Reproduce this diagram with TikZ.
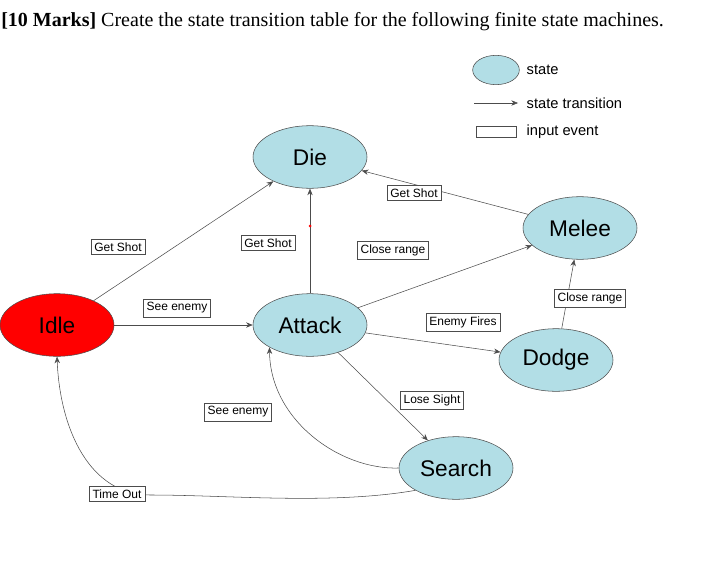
\documentclass[tikz,border=0pt]{standalone}
\usepackage{fontspec}
\setmainfont{Liberation Sans}
\newfontfamily\tnr{Liberation Serif}
\usetikzlibrary{arrows.meta,shapes.geometric}
\definecolor{stb}{RGB}{178,222,230}
\definecolor{idr}{RGB}{255,0,0}
\begin{document}
\begin{tikzpicture}[x=0.75pt,y=-0.75pt,
  st/.style={draw=black!70,fill=stb,ellipse,minimum width=85.5pt,minimum height=47pt,inner sep=0,font=\fontsize{17}{17}\selectfont},
  ev/.style={draw=black!70,fill=white,inner sep=2.5pt,font=\fontsize{9}{10}\selectfont},
  tr/.style={draw=black!70,-{Stealth[length=5pt,width=4pt]}},
  ]
\useasboundingbox (0,0) rectangle (706,567);
\node[anchor=west,font=\tnr\fontsize{15}{15}\selectfont,inner sep=0] (title) at (1,22) {\textbf{[10 Marks]} Create the state transition table for the following finite state machines.};
% legend
\node[draw=black!70,fill=stb,ellipse,minimum width=35pt,minimum height=22pt,inner sep=0] (lst) at (496,70) {};
\node[anchor=west,font=\fontsize{11}{11}\selectfont] (lstt) at (522,70) {state};
\coordinate (la) at (474,103); \coordinate (lb) at (518,103);
\draw[tr] (la) -- (lb);
\node[anchor=west,font=\fontsize{11}{11}\selectfont] (ltrt) at (522,103) {state transition};
\node[draw=black!70,minimum width=30pt,minimum height=8pt,inner sep=0] (lev) at (496,132) {};
\node[anchor=west,font=\fontsize{11}{11}\selectfont] (levt) at (522,132) {input event};
% states
\node[st] (die) at (310,157) {Die};
\node[st] (melee) at (580,228) {Melee};
\node[st,fill=idr] (idle) at (57,325) {Idle};
\node[st] (attack) at (310,325) {Attack};
\node[st] (dodge) at (556,360) {Dodge};
\node[st] (search) at (456,468) {Search};
% transitions
\draw[tr] (idle) -- (die);
\draw[tr] (attack) -- (die);
\draw[tr] (melee) -- (die);
\draw[tr] (attack) -- (melee);
\draw[tr] (idle) -- (attack);
\draw[tr] (attack) -- (dodge);
\draw[tr] (dodge) -- (melee);
\draw[tr] (attack) -- (search);
\draw[tr] (search.west) .. controls (340,470) and (270,420) .. (attack.south west);
\draw[tr] (search.south west) .. controls (330,505) and (230,495) .. (150,495) .. controls (90,495) and (60,430) .. (idle.south);
\fill[red] (310,226) circle (1.5);
% events
\node[ev] (e1) at (118,247) {Get Shot};
\node[ev] (e2) at (268,243) {Get Shot};
\node[ev] (e3) at (414,193) {Get Shot};
\node[ev] (e4) at (393,250) {Close range};
\node[ev] (e5) at (177,308) {See enemy};
\node[ev] (e6) at (463,322) {Enemy Fires};
\node[ev] (e7) at (590,298) {Close range};
\node[ev] (e8) at (432,400) {Lose Sight};
\node[ev] (e9) at (238,412) {See enemy};
\node[ev] (e10) at (117,494) {Time Out};
\end{tikzpicture}
\end{document}
